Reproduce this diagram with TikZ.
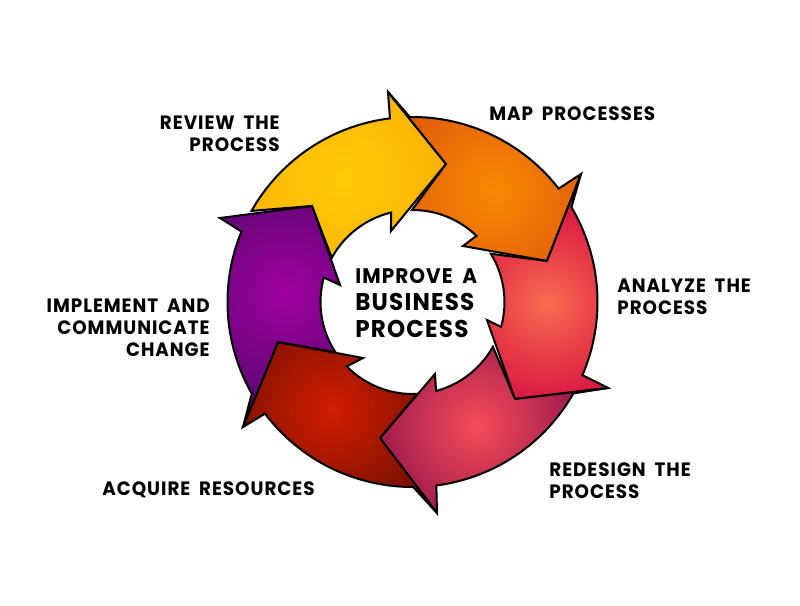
\documentclass[tikz,border=0pt]{standalone}
\usepackage{fontspec}
\setmainfont[FakeStretch=0.95,LetterSpace=5,WordSpace=1.8]{Poppins}
\usetikzlibrary{calc}
\definecolor{yellowin}{HTML}{FFCB08}
\definecolor{yellowout}{HTML}{F59C00}
\definecolor{orangein}{HTML}{F68A00}
\definecolor{orangeout}{HTML}{D63F14}
\definecolor{redin}{HTML}{F96C50}
\definecolor{redout}{HTML}{D2003E}
\definecolor{magentain}{HTML}{F84C58}
\definecolor{magentaout}{HTML}{7A0848}
\definecolor{darkredin}{HTML}{D21E00}
\definecolor{darkredout}{HTML}{580A00}
\definecolor{purplein}{HTML}{A0009E}
\definecolor{purpleout}{HTML}{3C0A5E}
\tikzset{arrowline/.style={draw=black,line width=1.15pt,line join=miter,miter limit=10}}
\tikzset{steplabel/.style={inner sep=0pt,text=black,font=\fontsize{11}{12.4}\selectfont\bfseries}}
\newcommand{\shadedarrow}[5]{
\begin{scope}
\clip #1;
\shade[inner color=#3,outer color=#4] #2 circle (#5);
\end{scope}
\path[arrowline] #1;
}
\begin{document}
\begin{tikzpicture}[x=0.02cm,y=0.02cm]
\useasboundingbox (-412.5,-303) rectangle (387.5,302);
% yellow
\shadedarrow{(150.5:185) arc[start angle=150.5,end angle=97,radius=185] -- (-24.5,210) -- (33.5,138) -- (-21.5,71) -- (103.5:92) arc[start angle=103.5,end angle=151.3,radius=92] -- (-100.5,96) -- cycle}{(-70,124)}{yellowin}{yellowout}{200}
% orange
\shadedarrow{(90.8:185) arc[start angle=90.8,end angle=37.8,radius=185] -- (168.5,128) -- (134.5,41) -- (50.5,56) -- (46:92) arc[start angle=46,end angle=90.3,radius=92] -- (33.5,138) -- (-24.5,210) -- cycle}{(80.5,112)}{orangein}{orangeout}{170}
% red
\shadedarrow{(30.8:185) arc[start angle=30.8,end angle=-23.3,radius=185] -- (195.5,-86) -- (102.5,-97) -- (74.5,-18) -- (-15.7:92) arc[start angle=-15.7,end angle=31.6,radius=92] -- (134.5,41) -- (168.5,128) -- cycle}{(134.5,-1)}{redin}{redout}{125}
% magenta
\shadedarrow{(-29.6:185) arc[start angle=-29.6,end angle=-82.6,radius=185] -- (24.5,-211) -- (-32.5,-136) -- (22.5,-72) -- (-75.2:92) arc[start angle=-75.2,end angle=-29.1,radius=92] -- (102.5,-97) -- (195.5,-86) -- cycle}{(64.5,-123)}{magentain}{magentaout}{140}
% dark red
\shadedarrow{(-89.8:185) arc[start angle=-89.8,end angle=-142.9,radius=185] -- (-169.5,-125) -- (-134.5,-40) -- (-49.5,-56) -- (-135.6:92) arc[start angle=-135.6,end angle=-87,radius=92] -- (-32.5,-136) -- (24.5,-211) -- cycle}{(-80.5,-108)}{darkredin}{darkredout}{150}
% purple
\shadedarrow{(209.7:185) arc[start angle=209.7,end angle=157.6,radius=185] -- (-192.5,84) -- (-100.5,96) -- (-72.5,17) -- (164.6:92) arc[start angle=164.6,end angle=213,radius=92] -- (-134.5,-40) -- (-169.5,-125) -- cycle}{(-127.5,9)}{purplein}{purpleout}{170}
% labels
\node[steplabel,align=right,anchor=east] (review) at (-132.5,168) {REVIEW THE\\PROCESS};
\node[steplabel,anchor=west] (map) at (76.5,188) {MAP PROCESSES};
\node[steplabel,align=left,anchor=west] (analyze) at (204.5,5) {ANALYZE THE\\PROCESS};
\node[steplabel,align=left,anchor=west] (redesign) at (136.5,-179) {REDESIGN THE\\PROCESS};
\node[steplabel,anchor=west] (acquire) at (-310.5,-188) {ACQUIRE RESOURCES};
\node[steplabel,align=right,anchor=east] (implement) at (-202.5,-26) {IMPLEMENT AND\\COMMUNICATE\\CHANGE};
\node[steplabel,align=left,anchor=west] (centre) at (-57.5,-1) {\fontsize{12}{14.8}\selectfont IMPROVE A\\[3pt]\fontsize{13.8}{14.8}\selectfont BUSINESS\\[3pt]\fontsize{13.8}{14.8}\selectfont PROCESS};
\end{tikzpicture}
\end{document}
